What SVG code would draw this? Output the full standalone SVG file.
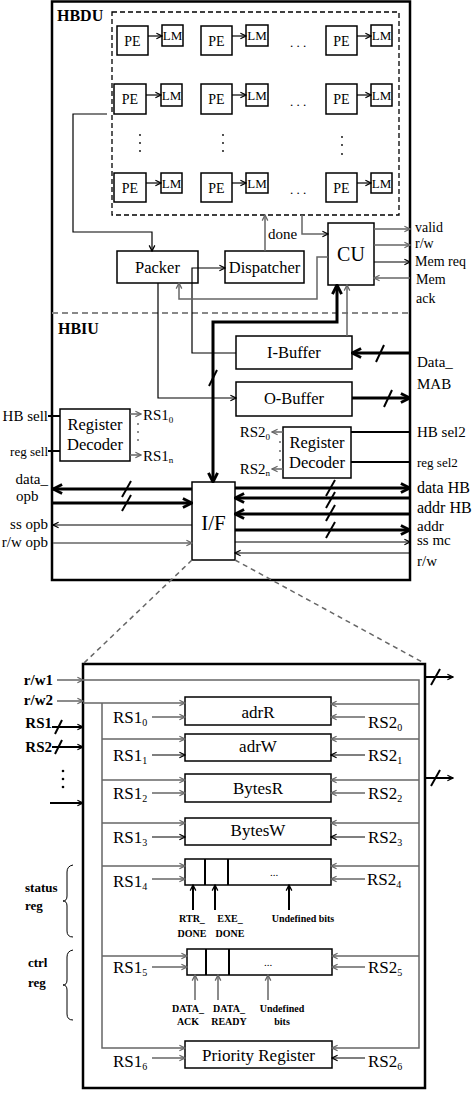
<svg xmlns="http://www.w3.org/2000/svg" width="474" height="1094" viewBox="0 0 474 1094">
<style>
text{font-family:"Liberation Serif","Times New Roman",serif;fill:#000}
.bx{fill:#fff;stroke:#000;stroke-width:1.5}
.k{fill:none;stroke:#000;stroke-width:1.2}
.k2{fill:none;stroke:#000;stroke-width:2}
.g{fill:none;stroke:#666;stroke-width:1.5}
.th{fill:none;stroke:#000;stroke-width:3}
.sl{stroke:#000;stroke-width:2}
.dot{fill:#000}
.bold{font-weight:bold}
.c{text-anchor:middle}
.e{text-anchor:end}
</style>
<defs>
<marker id="ak" viewBox="0 0 10 10" refX="9" refY="5" markerWidth="8" markerHeight="8" markerUnits="userSpaceOnUse" orient="auto-start-reverse"><path d="M2,1.5 L9,5 L2,8.5" fill="none" stroke="#000" stroke-width="1.6"/></marker>
<marker id="ag" viewBox="0 0 10 10" refX="9" refY="5" markerWidth="8" markerHeight="8" markerUnits="userSpaceOnUse" orient="auto-start-reverse"><path d="M2,1.5 L9,5 L2,8.5" fill="none" stroke="#666" stroke-width="1.6"/></marker>
<marker id="at" viewBox="0 0 10 10" refX="9" refY="5" markerWidth="13" markerHeight="13" markerUnits="userSpaceOnUse" orient="auto-start-reverse"><path d="M2,1.5 L9,5 L2,8.5" fill="none" stroke="#000" stroke-width="2.2"/></marker>
</defs>

<!-- containers -->
<g id="outer-top">
<rect x="52" y="1.5" width="358" height="578.5" fill="none" stroke="#000" stroke-width="2.5"/>
<text x="57" y="21" class="bold" font-size="16">HBDU</text>
<line x1="52" y1="313" x2="410" y2="313" stroke="#888" stroke-width="2" stroke-dasharray="6,4"/>
<text x="58" y="334" class="bold" font-size="16">HBIU</text>
</g>
<g id="pe-array">
<rect x="112" y="12" width="287" height="203" fill="none" stroke="#000" stroke-width="1.3" stroke-dasharray="5,3"/>
</g>

<g id="pe-row1">
<rect class="bx" x="117" y="26" width="31" height="29"/><text x="132.5" y="46" class="c" font-size="14">PE</text>
<rect class="bx" x="162" y="25" width="21" height="21"/><text x="172.5" y="40" class="c" font-size="13">LM</text>
<rect class="bx" x="201" y="26" width="31" height="29"/><text x="216.5" y="46" class="c" font-size="14">PE</text>
<rect class="bx" x="246" y="25" width="22" height="21"/><text x="257" y="40" class="c" font-size="13">LM</text>
<rect class="bx" x="326" y="26" width="31" height="29"/><text x="341.5" y="46" class="c" font-size="14">PE</text>
<rect class="bx" x="371" y="25" width="21" height="21"/><text x="381.5" y="40" class="c" font-size="13">LM</text>
<text x="298" y="47" class="c" font-size="13">. . .</text>
</g>
<g id="pe-row2">
<rect class="bx" x="114" y="84" width="32" height="30"/><text x="130" y="104" class="c" font-size="14">PE</text>
<rect class="bx" x="161" y="84" width="21" height="22"/><text x="171.5" y="100" class="c" font-size="13">LM</text>
<rect class="bx" x="201" y="84" width="31" height="30"/><text x="216.5" y="104" class="c" font-size="14">PE</text>
<rect class="bx" x="246" y="84" width="22" height="22"/><text x="257" y="100" class="c" font-size="13">LM</text>
<rect class="bx" x="326" y="84" width="31" height="30"/><text x="341.5" y="104" class="c" font-size="14">PE</text>
<rect class="bx" x="371" y="84" width="21" height="22"/><text x="381.5" y="100" class="c" font-size="13">LM</text>
<text x="298" y="106" class="c" font-size="13">. . .</text>
</g>
<g id="pe-vdots">
<circle class="dot" cx="140" cy="135" r="0.9"/><circle class="dot" cx="140" cy="143" r="0.9"/><circle class="dot" cx="140" cy="151" r="0.9"/>
<circle class="dot" cx="223" cy="135" r="0.9"/><circle class="dot" cx="223" cy="143" r="0.9"/><circle class="dot" cx="223" cy="151" r="0.9"/>
<circle class="dot" cx="342" cy="137" r="0.9"/><circle class="dot" cx="342" cy="145" r="0.9"/><circle class="dot" cx="342" cy="154" r="0.9"/>
</g>
<g id="pe-row4">
<rect class="bx" x="114" y="173" width="32" height="29"/><text x="130" y="193" class="c" font-size="14">PE</text>
<rect class="bx" x="161" y="173" width="21" height="20"/><text x="171.5" y="188" class="c" font-size="13">LM</text>
<rect class="bx" x="201" y="173" width="31" height="29"/><text x="216.5" y="193" class="c" font-size="14">PE</text>
<rect class="bx" x="246" y="173" width="22" height="20"/><text x="257" y="188" class="c" font-size="13">LM</text>
<rect class="bx" x="326" y="173" width="31" height="29"/><text x="341.5" y="193" class="c" font-size="14">PE</text>
<rect class="bx" x="371" y="173" width="21" height="20"/><text x="381.5" y="188" class="c" font-size="13">LM</text>
<text x="298" y="194" class="c" font-size="13">. . .</text>
</g>

<g id="packer"><rect class="bx" x="117" y="251" width="81" height="32"/><text x="157.5" y="273" class="c" font-size="16.5">Packer</text></g>
<g id="dispatcher"><rect class="bx" x="225" y="251" width="79" height="32"/><text x="264.5" y="273" class="c" font-size="16.5">Dispatcher</text></g>
<g id="cu"><rect class="bx" x="328" y="223" width="46" height="62"/><text x="351" y="261" class="c" font-size="20">CU</text></g>
<g id="i-buffer"><rect class="bx" x="236" y="336" width="116" height="33"/><text x="294" y="358" class="c" font-size="16.5">I-Buffer</text></g>
<g id="o-buffer"><rect class="bx" x="236" y="382" width="116" height="34"/><text x="294" y="404" class="c" font-size="16.5">O-Buffer</text></g>
<g id="reg-decoder-1"><rect class="bx" x="60" y="409" width="70" height="52"/><text x="95" y="430" class="c" font-size="16.5">Register</text><text x="95" y="450" class="c" font-size="16.5">Decoder</text></g>
<g id="reg-decoder-2"><rect class="bx" x="283" y="427" width="68" height="51"/><text x="317" y="448" class="c" font-size="16.5">Register</text><text x="317" y="468" class="c" font-size="16.5">Decoder</text></g>
<g id="if"><rect class="bx" x="192" y="482" width="43" height="78"/><text x="213.5" y="530" class="c" font-size="21">I/F</text></g>

<!-- lower detail -->
<g id="if-detail">
<rect x="83" y="664" width="342" height="424" fill="none" stroke="#000" stroke-width="2.5"/>
</g>
<g id="adrR"><rect class="bx" x="185" y="697" width="146" height="28"/><text x="258" y="718" class="c" font-size="17">adrR</text></g>
<g id="adrW"><rect class="bx" x="185" y="734" width="146" height="27"/><text x="258" y="752" class="c" font-size="17">adrW</text></g>
<g id="BytesR"><rect class="bx" x="185" y="774" width="146" height="28"/><text x="258" y="794" class="c" font-size="17">BytesR</text></g>
<g id="BytesW"><rect class="bx" x="185" y="818" width="146" height="27"/><text x="258" y="836" class="c" font-size="17">BytesW</text></g>
<g id="status-reg"><rect class="bx" x="185" y="859" width="146" height="26"/><line class="k2" x1="205" y1="859" x2="205" y2="885"/><line class="k2" x1="228" y1="859" x2="228" y2="885"/><text x="274" y="876" class="c" font-size="11">...</text></g>
<g id="ctrl-reg"><rect class="bx" x="187" y="949" width="145" height="26"/><line class="k2" x1="206" y1="949" x2="206" y2="975"/><line class="k2" x1="229" y1="949" x2="229" y2="975"/><text x="268" y="966" class="c" font-size="11">...</text></g>
<g id="priority-register"><rect class="bx" x="185" y="1041" width="147" height="27"/><text x="258.5" y="1061" class="c" font-size="17">Priority Register</text></g>

<g id="connectors">
<!-- PE to LM -->
<line class="k" x1="148" y1="36" x2="162" y2="36" marker-end="url(#ak)"/>
<line class="k" x1="232" y1="36" x2="246" y2="36" marker-end="url(#ak)"/>
<line class="k" x1="357" y1="36" x2="371" y2="36" marker-end="url(#ak)"/>
<line class="k" x1="146" y1="95" x2="161" y2="95" marker-end="url(#ak)"/>
<line class="k" x1="232" y1="95" x2="246" y2="95" marker-end="url(#ak)"/>
<line class="k" x1="357" y1="95" x2="371" y2="95" marker-end="url(#ak)"/>
<line class="k" x1="146" y1="183" x2="161" y2="183" marker-end="url(#ak)"/>
<line class="k" x1="232" y1="183" x2="246" y2="183" marker-end="url(#ak)"/>
<line class="k" x1="357" y1="183" x2="371" y2="183" marker-end="url(#ak)"/>
<!-- array to packer -->
<path class="k" d="M107,114 H73 V232 H152 V251" marker-end="url(#ak)"/>
<!-- dispatcher to array -->
<line class="g" x1="265" y1="251" x2="265" y2="215" marker-end="url(#ag)"/>
<text x="268" y="239" font-size="15">done</text>
<path class="g" d="M302,215 V234 H328" stroke="#444" marker-end="url(#ak)"/>
<!-- CU outputs -->
<line class="g" x1="374" y1="229" x2="410" y2="229" marker-end="url(#ag)"/>
<line class="g" x1="374" y1="245" x2="410" y2="245" marker-end="url(#ag)"/>
<line class="k" x1="374" y1="262" x2="410" y2="262" marker-end="url(#ak)"/>
<line class="g" x1="410" y1="278" x2="374" y2="278" marker-end="url(#ag)"/>
<!-- I-Buffer to dispatcher -->
<path class="k" d="M236,353 H192 V268 H225" marker-end="url(#ak)"/>
<!-- CU to packer -->
<path class="g" d="M328,257 H317 V299 H179 V283" marker-end="url(#ag)"/>
<!-- packer to O-buffer -->
<path class="k" d="M158,283 V398 H236" marker-end="url(#ak)"/>
<!-- CU to I/F thick -->
<path class="th" d="M213,482 V322 H337 V285" marker-start="url(#at)" marker-end="url(#at)"/>
<line class="sl" x1="209" y1="386" x2="217" y2="370"/>
<!-- I-buffer to CU -->
<line class="g" x1="347" y1="336" x2="347" y2="285" marker-end="url(#ag)"/>
<!-- Data_MAB -->
<line class="th" x1="410" y1="353" x2="352" y2="353" marker-end="url(#at)"/>
<line class="sl" x1="376" y1="362" x2="384" y2="345"/>
<line class="th" x1="352" y1="398" x2="410" y2="398" marker-end="url(#at)"/>
<line class="sl" x1="384" y1="407" x2="392" y2="390"/>
<!-- left decoder -->
<line class="k2" x1="48" y1="416" x2="60" y2="416"/>
<line class="k2" x1="48" y1="451" x2="60" y2="451"/>
<line class="g" x1="130" y1="414" x2="141" y2="414" marker-end="url(#ag)"/>
<line class="g" x1="130" y1="455" x2="141" y2="455" marker-end="url(#ag)"/>
<!-- right decoder -->
<line class="k2" x1="351" y1="432" x2="410" y2="432" stroke-width="2.5"/>
<line class="k2" x1="351" y1="462" x2="410" y2="462" stroke-width="2.5"/>
<line class="g" x1="283" y1="432" x2="272" y2="432" marker-end="url(#ag)"/>
<line class="g" x1="283" y1="469" x2="272" y2="469" marker-end="url(#ag)"/>
<!-- I/F left -->
<line class="th" x1="192" y1="489" x2="53" y2="489" marker-end="url(#at)"/>
<line class="th" x1="53" y1="503" x2="192" y2="503" marker-end="url(#at)"/>
<line class="sl" x1="122" y1="497" x2="131" y2="481"/>
<line class="sl" x1="122" y1="511" x2="131" y2="495"/>
<line class="k" x1="192" y1="525" x2="53" y2="525" marker-end="url(#ak)"/>
<line class="g" x1="53" y1="543" x2="192" y2="543" marker-end="url(#ag)"/>
<!-- I/F right -->
<line class="th" x1="235" y1="488" x2="410" y2="488" marker-end="url(#at)"/>
<line class="th" x1="410" y1="498" x2="235" y2="498" marker-end="url(#at)"/>
<line class="th" x1="410" y1="514" x2="235" y2="514" marker-end="url(#at)"/>
<line class="th" x1="235" y1="530" x2="410" y2="530" marker-end="url(#at)"/>
<line class="k" x1="235" y1="542" x2="410" y2="542" marker-end="url(#ak)"/>
<line class="k" x1="410" y1="553" x2="235" y2="553" marker-end="url(#ak)"/>
<line class="sl" x1="326" y1="496" x2="335" y2="480"/>
<line class="sl" x1="326" y1="508" x2="335" y2="492"/>
<line class="sl" x1="326" y1="521" x2="335" y2="505"/>
<line class="sl" x1="326" y1="538" x2="335" y2="522"/>
<!-- zoom lines -->
<line x1="192" y1="560" x2="84" y2="663" stroke="#666" stroke-width="1.5" stroke-dasharray="5,4"/>
<line x1="235" y1="560" x2="424" y2="663" stroke="#666" stroke-width="1.5" stroke-dasharray="5,4"/>

<!-- lower detail connectors -->
<line class="g" x1="57" y1="680" x2="83" y2="680" marker-end="url(#ag)"/>
<path class="g" d="M83,680 H419 V1048 H332" marker-end="url(#ag)"/>
<line class="g" x1="57" y1="701" x2="83" y2="701" marker-end="url(#ag)"/>
<path class="g" d="M83,703 H185" marker-end="url(#ag)"/>
<path class="g" d="M102,703 V1048 H185" marker-end="url(#ag)"/>
<line class="k2" x1="52" y1="727" x2="83" y2="727" marker-end="url(#ak)"/>
<line class="sl" x1="55" y1="734" x2="62" y2="720"/>
<line class="k2" x1="52" y1="747" x2="83" y2="747" marker-end="url(#ak)"/>
<line class="sl" x1="55" y1="754" x2="62" y2="740"/>
<circle class="dot" cx="63" cy="771" r="1.3"/><circle class="dot" cx="63" cy="779" r="1.3"/><circle class="dot" cx="63" cy="787" r="1.3"/>
<line class="k2" x1="50" y1="803" x2="83" y2="803" marker-end="url(#ak)"/>
<line class="k2" x1="425" y1="677" x2="453" y2="677" marker-end="url(#ak)"/>
<line class="sl" x1="431" y1="685" x2="440" y2="669"/>
<line class="k2" x1="425" y1="778" x2="453" y2="778" marker-end="url(#ak)"/>
<line class="sl" x1="431" y1="786" x2="440" y2="770"/>
<!-- register inputs left -->
<line class="g" x1="102" y1="739" x2="185" y2="739" marker-end="url(#ag)"/>
<line class="g" x1="102" y1="780" x2="185" y2="780" marker-end="url(#ag)"/>
<line class="g" x1="102" y1="823" x2="185" y2="823" marker-end="url(#ag)"/>
<line class="g" x1="102" y1="866" x2="185" y2="866" marker-end="url(#ag)"/>
<line class="g" x1="102" y1="956" x2="187" y2="956" marker-end="url(#ag)"/>
<line class="g" x1="152" y1="717" x2="185" y2="717" marker-end="url(#ag)"/>
<line class="k" x1="152" y1="755" x2="185" y2="755" marker-end="url(#ak)"/>
<line class="g" x1="152" y1="793" x2="185" y2="793" marker-end="url(#ag)"/>
<line class="k" x1="152" y1="837" x2="185" y2="837" marker-end="url(#ak)"/>
<line class="g" x1="152" y1="879" x2="185" y2="879" marker-end="url(#ag)"/>
<line class="g" x1="152" y1="967" x2="187" y2="967" marker-end="url(#ag)"/>
<line class="g" x1="152" y1="1058" x2="185" y2="1058" marker-end="url(#ag)"/>
<!-- register inputs right -->
<line class="g" x1="419" y1="704" x2="331" y2="704" marker-end="url(#ag)"/>
<line class="g" x1="419" y1="739" x2="331" y2="739" marker-end="url(#ag)"/>
<line class="g" x1="419" y1="780" x2="331" y2="780" marker-end="url(#ag)"/>
<line class="g" x1="419" y1="823" x2="331" y2="823" marker-end="url(#ag)"/>
<line class="g" x1="419" y1="866" x2="331" y2="866" marker-end="url(#ag)"/>
<line class="g" x1="419" y1="956" x2="332" y2="956" marker-end="url(#ag)"/>
<line class="g" x1="365" y1="717" x2="331" y2="717" marker-end="url(#ag)"/>
<line class="k" x1="365" y1="755" x2="331" y2="755" marker-end="url(#ak)"/>
<line class="g" x1="365" y1="793" x2="331" y2="793" marker-end="url(#ag)"/>
<line class="k" x1="365" y1="837" x2="331" y2="837" marker-end="url(#ak)"/>
<line class="g" x1="365" y1="879" x2="331" y2="879" marker-end="url(#ag)"/>
<line class="g" x1="365" y1="967" x2="332" y2="967" marker-end="url(#ag)"/>
<line class="k" x1="365" y1="1058" x2="332" y2="1058" marker-end="url(#ak)"/>
<!-- bit arrows -->
<line class="k2" x1="193" y1="910" x2="193" y2="885" marker-end="url(#ak)"/>
<line class="k2" x1="215" y1="910" x2="215" y2="885" marker-end="url(#ak)"/>
<line class="k2" x1="289" y1="910" x2="289" y2="885" marker-end="url(#ak)"/>
<line class="g" x1="195" y1="1000" x2="195" y2="975" marker-end="url(#ag)"/>
<line class="g" x1="218" y1="1000" x2="218" y2="975" marker-end="url(#ag)"/>
<line class="g" x1="268" y1="1000" x2="268" y2="975" marker-end="url(#ag)"/>
</g>

<g id="labels">
<text x="415" y="232" font-size="14">valid</text>
<text x="415" y="248" font-size="14">r/w</text>
<text x="415" y="266" font-size="14">Mem req</text>
<text x="416" y="284" font-size="14">Mem</text>
<text x="416" y="303" font-size="14">ack</text>
<text x="417" y="367" font-size="15">Data_</text>
<text x="417" y="389" font-size="15">MAB</text>
<text x="48" y="421" class="e" font-size="15">HB sell</text>
<text x="48" y="456" class="e" font-size="13">reg sell</text>
<text x="143" y="420" font-size="15">RS1<tspan font-size="9" dy="3">0</tspan></text>
<circle class="dot" cx="138" cy="424" r="0.8"/><circle class="dot" cx="138" cy="432" r="0.8"/><circle class="dot" cx="138" cy="440" r="0.8"/>
<text x="143" y="461" font-size="15">RS1<tspan font-size="9" dy="2">n</tspan></text>
<text x="270" y="437" class="e" font-size="15">RS2<tspan font-size="9" dy="3">0</tspan></text>
<circle class="dot" cx="280" cy="442" r="0.8"/><circle class="dot" cx="280" cy="451" r="0.8"/><circle class="dot" cx="280" cy="460" r="0.8"/>
<text x="270" y="474" class="e" font-size="15">RS2<tspan font-size="9" dy="2">n</tspan></text>
<text x="417" y="437" font-size="15">HB sel2</text>
<text x="417" y="467" font-size="13">reg sel2</text>
<text x="48" y="484" class="e" font-size="15">data_</text>
<text x="16" y="501" font-size="15">opb</text>
<text x="48" y="529" class="e" font-size="15">ss opb</text>
<text x="48" y="547" class="e" font-size="15">r/w opb</text>
<text x="417" y="493" font-size="16">data HB</text>
<text x="417" y="513" font-size="16">addr HB</text>
<text x="417" y="531" font-size="15">addr</text>
<text x="417" y="545" font-size="15">ss mc</text>
<text x="417" y="566" font-size="15">r/w</text>

<text x="53" y="685" class="e bold" font-size="15">r/w1</text>
<text x="53" y="705" class="e bold" font-size="15">r/w2</text>
<text x="52" y="728" class="e bold" font-size="15">RS1</text>
<text x="52" y="752" class="e bold" font-size="15">RS2</text>

<text x="113" y="723" font-size="17">RS1<tspan font-size="10" dy="3">0</tspan></text>
<text x="113" y="761" font-size="17">RS1<tspan font-size="10" dy="3">1</tspan></text>
<text x="113" y="799" font-size="17">RS1<tspan font-size="10" dy="3">2</tspan></text>
<text x="113" y="843" font-size="17">RS1<tspan font-size="10" dy="3">3</tspan></text>
<text x="113" y="887" font-size="17">RS1<tspan font-size="10" dy="3">4</tspan></text>
<text x="113" y="973" font-size="17">RS1<tspan font-size="10" dy="3">5</tspan></text>
<text x="113" y="1067" font-size="17">RS1<tspan font-size="10" dy="3">6</tspan></text>
<text x="368" y="728" font-size="17">RS2<tspan font-size="10" dy="3">0</tspan></text>
<text x="368" y="761" font-size="17">RS2<tspan font-size="10" dy="3">1</tspan></text>
<text x="368" y="799" font-size="17">RS2<tspan font-size="10" dy="3">2</tspan></text>
<text x="368" y="843" font-size="17">RS2<tspan font-size="10" dy="3">3</tspan></text>
<text x="367" y="885" font-size="17">RS2<tspan font-size="10" dy="3">4</tspan></text>
<text x="368" y="973" font-size="17">RS2<tspan font-size="10" dy="3">5</tspan></text>
<text x="368" y="1067" font-size="17">RS2<tspan font-size="10" dy="3">6</tspan></text>

<text x="192" y="922" class="c bold" font-size="10">RTR_</text>
<text x="192" y="937" class="c bold" font-size="10">DONE</text>
<text x="230" y="922" class="c bold" font-size="10">EXE_</text>
<text x="230" y="937" class="c bold" font-size="10">DONE</text>
<text x="303" y="922" class="c bold" font-size="10">Undefined bits</text>
<text x="188" y="1012" class="c bold" font-size="10">DATA_</text>
<text x="188" y="1025" class="c bold" font-size="10">ACK</text>
<text x="229" y="1012" class="c bold" font-size="10">DATA_</text>
<text x="229" y="1025" class="c bold" font-size="10">READY</text>
<text x="282" y="1012" class="c bold" font-size="10">Undefined</text>
<text x="282" y="1025" class="c bold" font-size="10">bits</text>

<path d="M73,865 Q67,866 67,872 V896 Q67,901 63,901 Q67,901 67,906 V931 Q67,937 73,937" fill="none" stroke="#000" stroke-width="1"/>
<text x="25" y="892" class="bold" font-size="13">status</text>
<text x="25" y="910" class="bold" font-size="13">reg</text>
<path d="M73,950 Q67,951 67,957 V980 Q67,985 63,985 Q67,985 67,990 V1014 Q67,1020 73,1020" fill="none" stroke="#000" stroke-width="1"/>
<text x="28" y="967" class="bold" font-size="13">ctrl</text>
<text x="28" y="987" class="bold" font-size="13">reg</text>
</g>
</svg>
